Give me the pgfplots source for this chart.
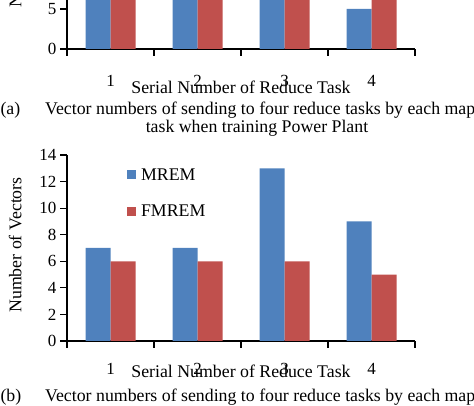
\documentclass[border=0pt]{standalone}
\usepackage{fontspec}
\setmainfont{Liberation Serif}
\usepackage{pgfplots}
\pgfplotsset{compat=1.18}
\definecolor{mremblue}{RGB}{79,129,189}
\definecolor{fmremred}{RGB}{192,80,77}

\newcommand{\capfont}{\fontsize{17.8}{21}\selectfont}

\pgfplotsset{
  reducetask/.style={
    scale only axis, width=348pt, anchor=south west,
    ybar=0pt, bar width=25pt,
    xmin=-0.5, xmax=3.5, ymin=0,
    axis x line*=bottom, axis y line*=left,
    axis line style={line width=1.4pt, black},
    xtick={0,1,2,3}, xticklabels={1,2,3,4},
    major x tick style={draw=none},
    minor xtick={-0.5,0.5,1.5,2.5,3.5},
    minor x tick style={line width=1.2pt, black},
    ytick style={line width=1.2pt, black},
    major tick length=7pt, minor tick length=7pt,
    tick align=outside,
    /pgf/number format/assume math mode=true,
    tick label style={font=\fontsize{17}{20}\selectfont},
    label style={font=\capfont},
    xticklabel style={anchor=center},
    legend image code/.code={\fill[##1] (0pt,-4.5pt) rectangle (9pt,4.5pt);},
  }
}

\begin{document}
\begin{tikzpicture}
\clip (0pt,0pt) rectangle (474pt,406pt);

% (a) top chart, cut at the top of the picture
\begin{axis}[reducetask,
  at={(67pt,357pt)}, height=56pt, ymax=7,
  ytick={0,5,10},
  xticklabel style={yshift=-25pt},
  xlabel={Serial Number of Reduce Task},
  xlabel style={at={(axis description cs:0.5,0)}, anchor=center, yshift=-38pt},
  ylabel={Number of Vectors},
  ylabel style={at={(axis description cs:-0.149,1.95)}, anchor=center},
]
\addplot[fill=mremblue, draw=none] coordinates {(0,8) (1,8) (2,8) (3,5)};
\addplot[fill=fmremred, draw=none] coordinates {(0,7) (1,7) (2,7) (3,7)};
\end{axis}

% (b) bottom chart
\begin{axis}[reducetask,
  at={(67pt,65pt)}, height=186pt, ymax=14,
  ytick={0,2,...,14},
  xticklabel style={yshift=-21pt},
  xlabel={Serial Number of Reduce Task},
  xlabel style={at={(axis description cs:0.5,0)}, anchor=center, yshift=-30pt},
  ylabel={Number of Vectors},
  ylabel style={at={(axis description cs:-0.149,0.516)}, anchor=center},
  legend style={draw=none, fill=none, at={(axis description cs:0.172,0.94)},
    anchor=north west, font=\capfont, row sep=19pt, inner sep=0pt,
    nodes={inner xsep=5pt}},
  legend cell align=left,
]
\addplot[fill=mremblue, draw=none] coordinates {(0,7) (1,7) (2,13) (3,9)};
\addplot[fill=fmremred, draw=none] coordinates {(0,6) (1,6) (2,6) (3,5)};
\legend{MREM, FMREM}
\end{axis}

\node[font=\capfont, anchor=base west] at (-3pt,291pt) {(a)};
\node[font=\capfont, anchor=base west, inner sep=0pt] at (45pt,291pt)
  {Vector numbers of sending to four reduce tasks by each map};
\node[font=\capfont, anchor=base, inner sep=0pt] at (257pt,273pt)
  {task when training Power Plant};
\node[font=\capfont, anchor=base west] at (-3pt,4pt) {(b)};
\node[font=\capfont, anchor=base west, inner sep=0pt] at (45pt,4pt)
  {Vector numbers of sending to four reduce tasks by each map};
\end{tikzpicture}
\end{document}
